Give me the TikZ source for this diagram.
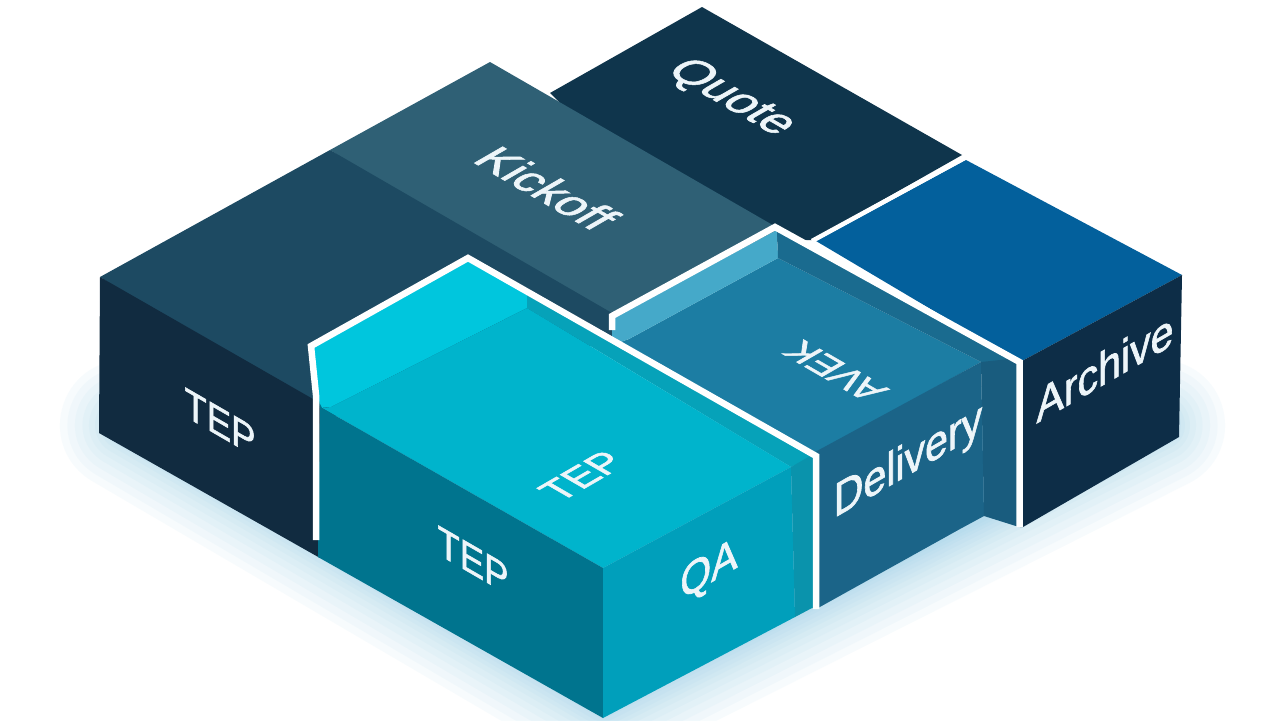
\documentclass[tikz,border=0pt]{standalone}
\usepackage{xcolor}
\usepackage{fontspec}
\newfontfamily\labelfont[FakeBold=1.5]{Liberation Sans}
\definecolor{glow}{HTML}{6FBDE0}
\definecolor{slabtop}{HTML}{1D4A62}
\definecolor{slabside}{HTML}{112B40}
\definecolor{kickofftop}{HTML}{2F6075}
\definecolor{quotetop}{HTML}{0F354C}
\definecolor{archivetop}{HTML}{03609C}
\definecolor{archiveside}{HTML}{0D2D47}
\definecolor{tepfront}{HTML}{00748E}
\definecolor{tepside}{HTML}{009FBB}
\definecolor{tepstrip}{HTML}{0A93AC}
\definecolor{teptop}{HTML}{00B4CC}
\definecolor{teplip}{HTML}{00C6DD}
\definecolor{tepback}{HTML}{06A2B9}
\definecolor{delivtop}{HTML}{1C7DA3}
\definecolor{delivlip}{HTML}{45A9C9}
\definecolor{delivback}{HTML}{1A6B8F}
\definecolor{delivside}{HTML}{1B6488}
\definecolor{delivstrip}{HTML}{195C7E}
\definecolor{labelwhite}{HTML}{EDF5F9}
\tikzset{
    outline/.style={draw=white,line width=0.13cm,line join=miter},
    label/.style={text=labelwhite,font=\labelfont,inner sep=0pt,transform shape},
    onleft/.style={label,cm={.866,-.5,0,1,(0,0)}},
    onright/.style={label,cm={.866,.5,0,1,(0,0)}},
    ontop/.style={label,cm={.866,-.5,.866,.5,(0,0)}},
    ontopup/.style={label,cm={.866,.5,-.866,.5,(0,0)}},
    ontopflip/.style={label,cm={-.866,.5,-.866,-.5,(0,0)}},
}
\newcommand{\lsize}[1]{\fontsize{#1}{#1}\selectfont}

\begin{document}
\begin{tikzpicture}[x=0.02cm,y=-0.02cm]
\useasboundingbox (0,0) rectangle (1280,720);
\fill[white] (0,0) rectangle (1280,720);
% soft glow on the floor
\foreach \w in {130,115,100,85,72,60,50,42,34,26,20,14}
    \filldraw[glow,opacity=.05,line width=\w*0.02cm,line join=round]
        (125,425) -- (603,705) -- (1160,425) -- cycle;
% slab and back panels
\fill[quotetop] (550,93) -- (702,7) -- (962,155) -- (812,240) -- (700,240) -- cycle;
\fill[kickofftop] (330,150) -- (490,62) -- (790,235) -- (612,330) -- cycle;
\fill[slabtop] (100,277) -- (330,150) -- (612,313) -- (612,340) -- (320,420) -- cycle;
\fill[slabside] (100,277) -- (320,403) -- (320,558) -- (99,433) -- cycle;
% archive
\fill[archivetop] (816,241) -- (966,160) -- (1182,275) -- (1020,362) -- cycle;
\fill[archiveside] (1020,362) -- (1182,275) -- (1179,437) -- (1023,527) -- (1020,527) -- cycle;
% delivery
\fill[delivtop] (612,345) -- (629,339) -- (778,258) -- (981,362) -- (822,450) -- (816,460) -- cycle;
\fill[delivlip] (612,318) -- (777,230) -- (778,258) -- (629,339) -- (612,345) -- cycle;
\fill[delivback] (777,230) -- (1018,362) -- (981,362) -- (778,258) -- cycle;
\fill[delivside] (815,452) -- (981,362) -- (984,516) -- (960,529) -- (818,608) -- cycle;
\fill[delivstrip] (981,362) -- (1019,358) -- (1019,527) -- (984,516) -- cycle;
% tep box
\fill[teplip] (313,346) -- (468,258) -- (527,291) -- (527,308) -- (331,407) -- (320,408) -- cycle;
\fill[tepback] (527,308) -- (527,291) -- (817,455) -- (791,467) -- cycle;
\fill[teptop] (322,408) -- (331,407) -- (527,308) -- (791,467) -- (603,568) -- cycle;
\fill[tepfront] (320,404) -- (322,408) -- (603,568) -- (603,718) -- (318,557) -- cycle;
\fill[tepside] (603,568) -- (791,467) -- (795,617) -- (603,718) -- cycle;
\fill[tepstrip] (791,467) -- (817,452) -- (817,608) -- (812,608) -- (795,617) -- cycle;
% white edges
\draw[outline] (316,540) -- (316,395) -- (311,346) -- (468,258) -- (816,456) -- (816,609);
\draw[outline] (612,330) -- (612,316) -- (775,227) -- (1019.5,362) -- (1019.5,527);
\draw[draw=white,line width=0.09cm] (812,241) -- (966,157);
% labels
\node[onleft]  (tepleft)  at (220,422) {\lsize{24}TEP};
\node[onleft]  (tepfront) at (473,560) {\lsize{24}TEP};
\node[onright] (qa)       at (709,572) {\lsize{26}QA};
\node[ontopup] (teptext)  at (582,476) {\lsize{23}TEP};
\node[ontopflip] (avek)   at (835,371) {\lsize{22}AVEK};
\node[onright] (delivery) at (908,463) {\lsize{27}Delivery};
\node[onright] (archive)  at (1105,367) {\lsize{27}Archive};
\node[ontop]   (kickoff)  at (547,188) {\lsize{27}Kickoff};
\node[ontop]   (quote)    at (731,98)  {\lsize{27}Quote};
\end{tikzpicture}
\end{document}
